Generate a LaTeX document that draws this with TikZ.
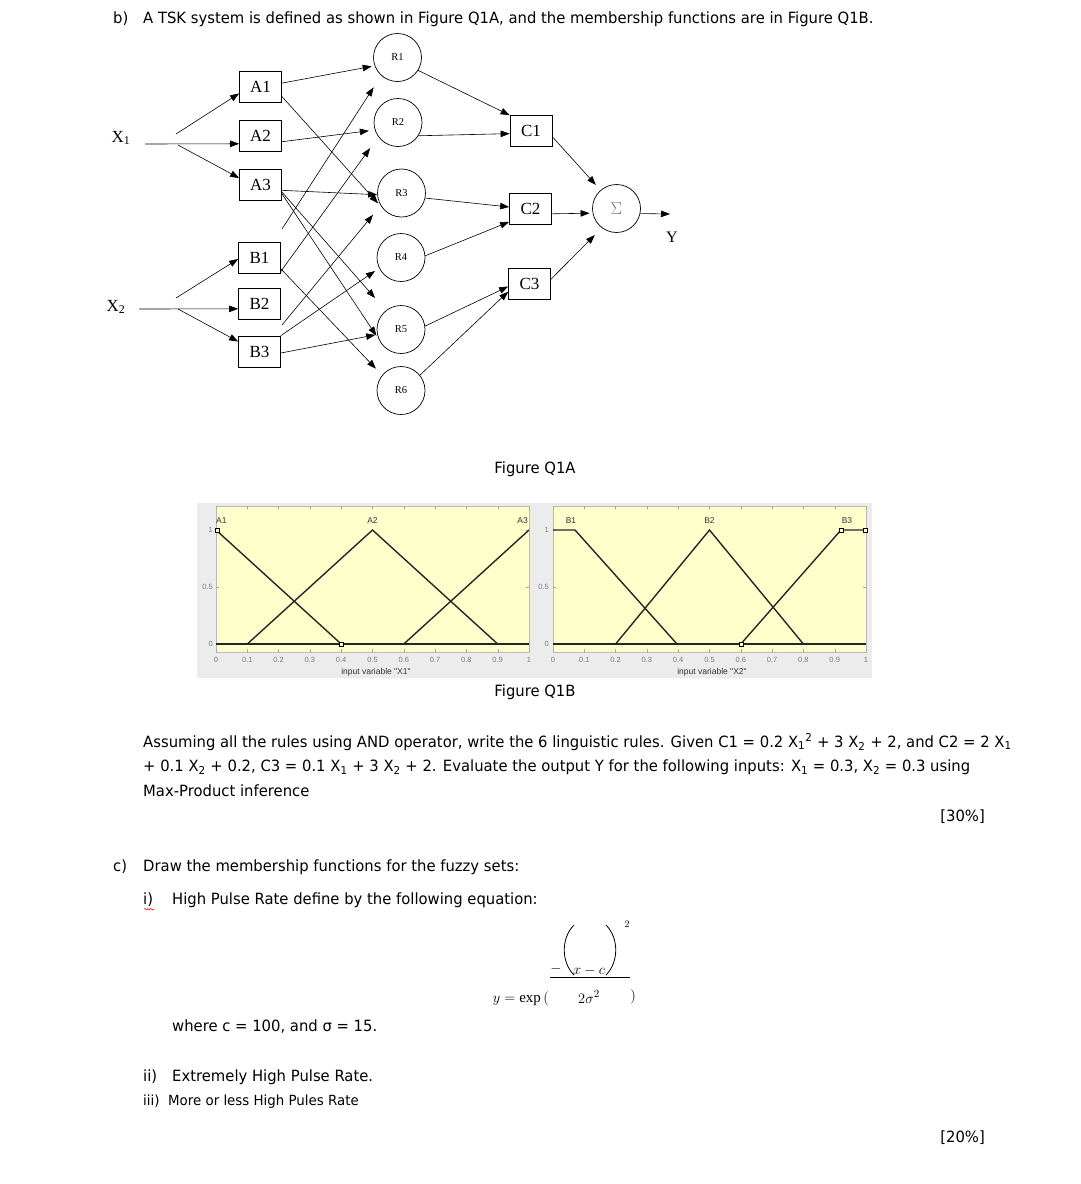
\documentclass[tikz,border=0pt]{standalone}
\usepackage{fontspec}
\setmainfont{Liberation Serif}
\newfontfamily\bodyfont[FakeStretch=0.955]{DejaVu Sans}
\newfontfamily\plotfont{Liberation Sans}
\usetikzlibrary{arrows.meta,decorations.pathmorphing}
\definecolor{mfyellow}{RGB}{255,255,204}
\definecolor{figgray}{RGB}{236,236,236}
\definecolor{tickgray}{RGB}{125,125,125}
\newcommand{\bodytxt}{\bodyfont\fontsize{15.5}{18}\selectfont}
\begin{document}
\begin{tikzpicture}[x=1pt,y=-1pt,
  box/.style={draw,line width=0.7pt,minimum width=42pt,minimum height=31pt,inner sep=0pt,font=\fontsize{17}{17}\selectfont},
  rulec/.style={draw,circle,line width=0.7pt,minimum size=48pt,inner sep=0pt,font=\fontsize{10.5}{10.5}\selectfont},
  arr/.style={-{Triangle[length=9pt,width=6.5pt]},line width=0.6pt},
  txt/.style={anchor=base west,inner sep=0pt,font=\bodytxt},
  mf/.style={line width=1.4pt,black!85},
  mk/.style={draw=black,line width=0.6pt,fill=mfyellow,minimum size=4pt,inner sep=0pt},
  tl/.style={inner sep=0pt,font=\plotfont\fontsize{7.5}{8}\selectfont,text=tickgray},
  ml/.style={inner sep=0pt,font=\plotfont\fontsize{8.5}{9}\selectfont,text=black!80}
]
\path[use as bounding box,fill=white] (0,0) rectangle (1080,1184);

% ---------- text ----------
\node[txt] (tb) at (113,23) {b)};
\node[txt] (tbt) at (143,23) {A TSK system is defined as shown in Figure Q1A, and the membership functions are in Figure Q1B.};
\node[txt,anchor=base] (cap1) at (535,473) {Figure Q1A};
\node[txt,anchor=base] (cap2) at (535,696) {Figure Q1B};
\node[txt] (p1) at (143,747) {Assuming all the rules using AND operator, write the 6 linguistic rules. Given C1 = 0.2 X\textsubscript{1}\textsuperscript{2} + 3 X\textsubscript{2} + 2, and C2 = 2 X\textsubscript{1}};
\node[txt] (p2) at (143,771.5) {+ 0.1 X\textsubscript{2} + 0.2, C3 = 0.1 X\textsubscript{1} + 3 X\textsubscript{2} + 2. Evaluate the output Y for the following inputs: X\textsubscript{1} = 0.3, X\textsubscript{2} = 0.3 using};
\node[txt] (p3) at (143,796) {Max-Product inference};
\node[txt,anchor=base east] (m30) at (985,821) {[30\%]};
\node[txt] (tc) at (113,871) {c)};
\node[txt] (tct) at (143,871) {Draw the membership functions for the fuzzy sets:};
\node[txt] (ti) at (143,904) {i)};
\draw[red,line width=0.5pt,decorate,decoration={snake,amplitude=0.8pt,segment length=3pt}] (ti.south west) ++(1,3) -- ++(10,0);
\node[txt] (tit) at (172,904) {High Pulse Rate define by the following equation:};
\node[txt] (tw) at (172,1031) {where c = 100, and σ = 15.};
\node[txt] (tii) at (143,1081) {ii)};
\node[txt] (tiit) at (172,1081) {Extremely High Pulse Rate.};
\node[txt,font=\bodyfont\fontsize{14}{16}\selectfont] (tiii) at (143,1105) {iii)};
\node[txt,font=\bodyfont\fontsize{14}{16}\selectfont] (tiiit) at (168,1105) {More or less High Pules Rate};
\node[txt,anchor=base east] (m20) at (985,1142) {[20\%]};

% ---------- formula ----------
\node[inner sep=0pt,anchor=base east,font=\fontsize{15}{15}\selectfont] (feq) at (549,1002) {$y=\exp\,($};
\node[inner sep=0pt,font=\fontsize{15}{15}\selectfont] (fmin) at (556,969) {$-$};
\draw[line width=0.8pt] (574,925) .. controls (561,938) and (561,962) .. (574,975);
\node[inner sep=0pt,anchor=base,font=\fontsize{15}{15}\selectfont] (fxc) at (589,974) {$x-c$};
\draw[line width=0.8pt] (606,925) .. controls (619,938) and (619,962) .. (606,975);
\node[inner sep=0pt,font=\fontsize{10}{10}\selectfont] (fsq) at (627,924) {$2$};
\draw[line width=0.6pt] (550,977.5) -- (630,977.5);
\node[inner sep=0pt,anchor=base,font=\fontsize{15}{15}\selectfont] (fden) at (589,1003) {$2\sigma^{2}$};
\node[inner sep=0pt,anchor=base,font=\fontsize{15}{15}\selectfont] (frp2) at (633,1000) {$)$};

% ---------- network ----------
\node[inner sep=0pt,font=\fontsize{17}{17}\selectfont] (X1) at (121,138) {X\textsubscript{1}};
\node[inner sep=0pt,font=\fontsize{17}{17}\selectfont] (X2) at (116,307) {X\textsubscript{2}};
\node[box] (A1) at (260.5,86.5) {A1};
\node[box] (A2) at (260.5,136) {A2};
\node[box] (A3) at (260.5,185) {A3};
\node[box] (B1) at (259.5,257.5) {B1};
\node[box] (B2) at (259.5,303.5) {B2};
\node[box] (B3) at (259.5,351.5) {B3};
\node[rulec] (R1) at (397.5,57.5) {R1};
\node[rulec] (R2) at (398,122.5) {R2};
\node[rulec] (R3) at (401.5,193) {R3};
\node[rulec] (R4) at (401,257.5) {R4};
\node[rulec] (R5) at (401,329.5) {R5};
\node[rulec] (R6) at (401,390.5) {R6};
\node[box] (C1) at (531,131) {C1};
\node[box] (C2) at (530.5,208.5) {C2};
\node[box] (C3) at (529.5,283.5) {C3};
\node[rulec,font=\fontsize{17}{17}\selectfont,text=black!55] (S) at (616.5,208.5) {$\Sigma$};
\node[inner sep=0pt,font=\fontsize{16}{16}\selectfont] (Y) at (672,237) {Y};

\coordinate (x1s) at (145,144);
\coordinate (x1a) at (176,134);
\coordinate (x1b) at (178,145);
\coordinate (x2s) at (139,309);
\coordinate (x2a) at (176,298);
\coordinate (x2b) at (178,309);
\coordinate (fb1) at (282,229);
\coordinate (fb3) at (282,325);
\coordinate (t45) at (375,298);
\coordinate (yout) at (670,214);

\draw[arr] (x1s) -- (A2.200);
\draw[arr] (x1a) -- (A1.198);
\draw[arr] (x1b) -- (A3.162);
\draw[arr] (x2s) -- (B2.194);
\draw[arr] (x2a) -- (B1.184);
\draw[arr] (x2b) -- (B3.155);

\draw[arr,shorten >=3pt] (A1.9) -- (R1.200);
\draw[arr,shorten >=8pt] (A1.335) -- (R3.222);
\draw[arr,shorten >=6pt] (A2.345) -- (R2.198);
\draw[arr] (A3.346) -- (R3.184);
\draw[arr] (A3.342) -- (t45);
\draw[arr,shorten >=4pt] (A3.338) -- (R5.203);
\draw[arr,shorten >=9pt] (B1.332) -- (R6.141);
\draw[arr,shorten >=14pt] (fb1) -- (R1.228);
\draw[arr,shorten >=14pt] (B1.327) -- (R2.216);
\draw[arr,shorten >=12pt] (fb3) -- (R3.211);
\draw[arr,shorten >=5pt] (B3.north east) -- (R4.206);
\draw[arr,shorten >=2pt] (B3.356) -- (R5.192);

\draw[arr] (R1.328) -- (C1.north west);
\draw[arr] (R2.327) -- (C1.187);
\draw[arr] (R3.348) -- (C2.176);
\draw[arr] (R4.4) -- (C2.212);
\draw[arr] (R5.8) -- (C3.188);
\draw[arr] (R6.39) -- (C3.201);
\draw[arr,shorten >=7pt] (C1.345) -- (S.131);
\draw[arr,shorten >=3pt] (C2.346) -- (S.191);
\draw[arr,shorten >=10pt] (C3.11) -- (S.233);
\draw[arr] (S.348) -- (yout);

% ---------- membership plots ----------
\fill[figgray] (197,503) rectangle (872,678);
\fill[mfyellow] (216,506) rectangle (529,652);
\fill[mfyellow] (553,506) rectangle (866,652);
\draw[gray!55,line width=0.4pt] (216,506) rectangle (529,652);
\draw[gray!55,line width=0.4pt] (553,506) rectangle (866,652);
\foreach \k in {0,...,10}{
  \draw[gray!70,line width=0.4pt] ({216+31.3*\k},652) -- ++(0,-3);
  \draw[gray!70,line width=0.4pt] ({216+31.3*\k},506) -- ++(0,3);
  \draw[gray!70,line width=0.4pt] ({553+31.3*\k},652) -- ++(0,-3);
  \draw[gray!70,line width=0.4pt] ({553+31.3*\k},506) -- ++(0,3);
}
\foreach \yy in {530,587,644}{
  \draw[gray!70,line width=0.4pt] (216,\yy) -- ++(3,0);
  \draw[gray!70,line width=0.4pt] (529,\yy) -- ++(-3,0);
  \draw[gray!70,line width=0.4pt] (553,\yy) -- ++(3,0);
  \draw[gray!70,line width=0.4pt] (866,\yy) -- ++(-3,0);
}
% tick labels
\foreach \k/\lab in {0/0,1/0.1,2/0.2,3/0.3,4/0.4,5/0.5,6/0.6,7/0.7,8/0.8,9/0.9,10/1}{
  \node[tl,anchor=base] at ({216+31.3*\k},662) {\lab};
  \node[tl,anchor=base] at ({553+31.3*\k},662) {\lab};
}
\node[tl,anchor=east] at (213,530) {1};
\node[tl,anchor=east] at (213,587) {0.5};
\node[tl,anchor=east] at (213,644) {0};
\node[tl,anchor=east] at (549,530) {1};
\node[tl,anchor=east] at (549,587) {0.5};
\node[tl,anchor=east] at (549,644) {0};
\node[tl,anchor=base,text=black!80,font=\plotfont\fontsize{8.5}{9}\selectfont] at (376,674) {input variable "X1"};
\node[tl,anchor=base,text=black!80,font=\plotfont\fontsize{8.5}{9}\selectfont] at (712,674) {input variable "X2"};
% left curves
\draw[mf] (216,644) -- (529,644);
\draw[mf] (216,530) -- (341.2,644);
\draw[mf] (247.3,644) -- (372.5,530) -- (497.7,644);
\draw[mf] (403.8,644) -- (529,530);
\node[mk] at (217,530) {};
\node[mk] at (341.2,644) {};
\node[ml,anchor=base west] at (216,523) {A1};
\node[ml,anchor=base] at (372.5,523) {A2};
\node[ml,anchor=base east] at (528,523) {A3};
% right curves
\draw[mf] (553,644) -- (866,644);
\draw[mf] (553,530) -- (575,530) -- (677,644);
\draw[mf] (615.6,644) -- (709.5,530) -- (803.4,644);
\draw[mf] (740.8,644) -- (841,530) -- (866,530);
\node[mk] at (740.8,644) {};
\node[mk] at (841,530) {};
\node[mk] at (865,530) {};
\node[ml,anchor=base] at (571,523) {B1};
\node[ml,anchor=base] at (709.5,523) {B2};
\node[ml,anchor=base] at (847,523) {B3};
\end{tikzpicture}
\end{document}
